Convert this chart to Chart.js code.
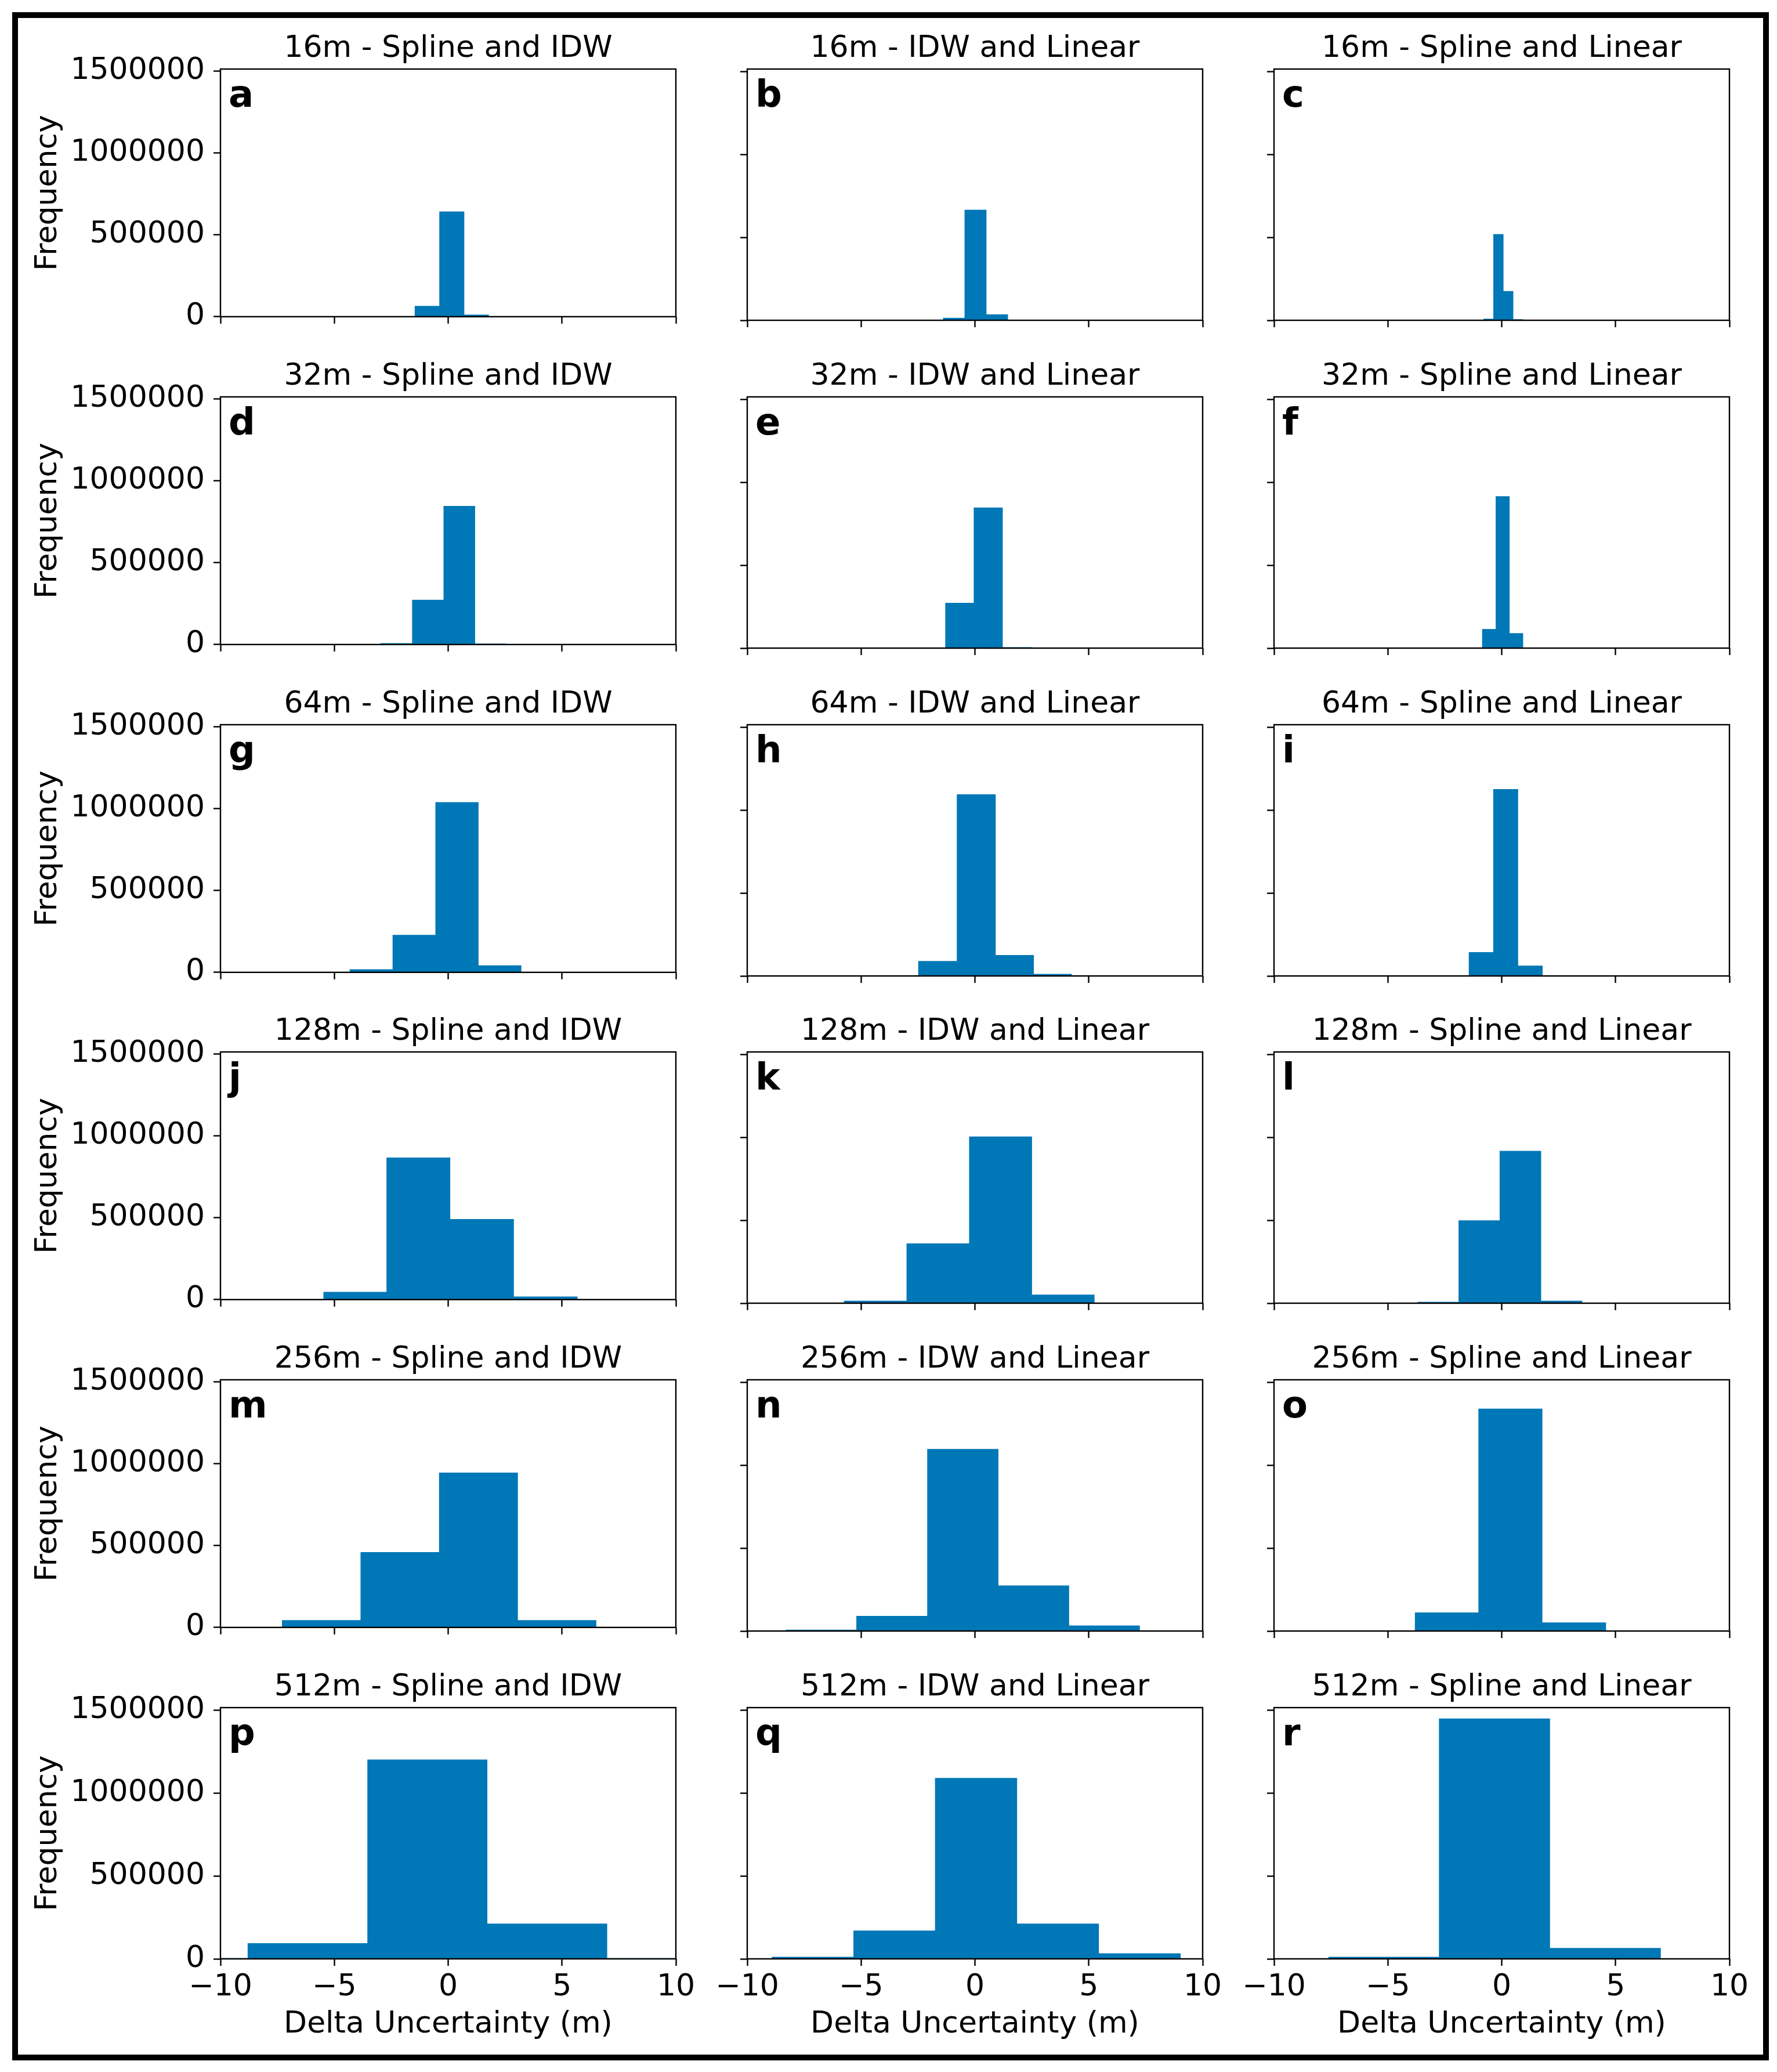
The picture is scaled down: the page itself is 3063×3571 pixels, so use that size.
<!DOCTYPE html>
<html>
<head>
<meta charset="utf-8">
<script src="https://cdn.jsdelivr.net/npm/chart.js@4.4.1/dist/chart.umd.min.js"></script>
<style>
  body { margin: 0; background: #fff; }
  #page { position: relative; width: 3063px; height: 3571px; background: #fff; }
  #frame { position: absolute; left: 21px; top: 21px; width: 3028px; height: 3530px;
           border: 10px solid #000; box-sizing: border-box; }
  canvas { position: absolute; }
</style>
</head>
<body>
<div id="page"><div id="frame"></div></div>
<script>
// resolution rows and method pairs (columns)
var resolutions = ['16m', '32m', '64m', '128m', '256m', '512m'];
var pairs = ['Spline and IDW', 'IDW and Linear', 'Spline and Linear'];
var letters = 'abcdefghijklmnopqr'.split('');
var xTicks = [-10, -5, 0, 5, 10];
var yTicks = [0, 500000, 1000000, 1500000];

// histogram bin centres (m) and counts
var centers_a = [-0.92, 0.16, 1.24];
var counts_a  = [65000, 642000, 11000];
var centers_b = [-0.92, 0.025, 0.97];
var counts_b  = [14000, 665000, 35000];
var centers_c = [-0.575, -0.145, 0.285, 0.715];
var counts_c  = [8000, 518000, 175000, 5000];

var centers_d = [-2.27, -0.88, 0.49, 1.86];
var counts_d  = [7000, 272000, 846000, 4000];
var centers_e = [-0.67, 0.58, 1.845];
var counts_e  = [272000, 846000, 4000];
var centers_f = [-0.555, 0.04, 0.635];
var counts_f  = [114000, 914000, 89000];

var centers_g = [-3.375, -1.49, 0.385, 2.265];
var counts_g  = [18000, 228000, 1039000, 42000];
var centers_h = [-1.635, 0.06, 1.745, 3.41];
var counts_h  = [89000, 1093000, 125000, 11000];
var centers_i = [-0.90, 0.175, 1.25];
var counts_i  = [142000, 1125000, 61000];

var centers_j = [-4.085, -1.315, 1.48, 4.275];
var counts_j  = [46000, 867000, 491000, 18000];
var centers_k = [-4.37, -1.62, 1.125, 3.87];
var counts_k  = [14000, 359000, 1003000, 50000];
var centers_l = [-2.79, -0.985, 0.82, 2.625];
var counts_l  = [7000, 498000, 917000, 14000];

var centers_m = [-5.565, -2.115, 1.33, 4.775];
var counts_m  = [43000, 459000, 945000, 43000];
var centers_n = [-6.755, -3.645, -0.53, 2.575, 5.68];
var counts_n  = [7000, 90000, 1096000, 273000, 32000];
var centers_o = [-2.41, 0.38, 3.175];
var counts_o  = [111000, 1339000, 50000];

var centers_p = [-11.43, -6.165, -0.915, 4.34, 9.61];
var counts_p  = [3000, 93000, 1200000, 211000, 3000];
var centers_q = [-7.12, -3.535, 0.045, 3.64, 7.23];
var counts_q  = [11000, 169000, 1089000, 211000, 32000];
var centers_r = [-5.175, -0.32, 4.545];
var counts_r  = [11000, 1447000, 64000];

var panels = [
    [centers_a, counts_a], [centers_b, counts_b], [centers_c, counts_c],
    [centers_d, counts_d], [centers_e, counts_e], [centers_f, counts_f],
    [centers_g, counts_g], [centers_h, counts_h], [centers_i, counts_i],
    [centers_j, counts_j], [centers_k, counts_k], [centers_l, counts_l],
    [centers_m, counts_m], [centers_n, counts_n], [centers_o, counts_o],
    [centers_p, counts_p], [centers_q, counts_q], [centers_r, counts_r]
];

Chart.defaults.font.family = '"DejaVu Sans"';
Chart.defaults.font.size = 52;
Chart.defaults.color = '#000';

// spines, panel title and bold panel letter
var panelText = {
    id: 'panelText',
    afterDraw: function (chart, args, opts) {
        var ctx = chart.ctx, a = chart.chartArea;
        ctx.save();
        ctx.strokeStyle = '#000';
        ctx.lineWidth = 2.4;
        ctx.strokeRect(a.left, a.top, a.right - a.left, a.bottom - a.top);
        ctx.fillStyle = '#000';
        ctx.textBaseline = 'alphabetic';
        ctx.font = '52px "DejaVu Sans"';
        ctx.textAlign = 'center';
        ctx.fillText(opts.title, (a.left + a.right) / 2, a.top - 21);
        ctx.font = 'bold 64px "DejaVu Sans"';
        ctx.textAlign = 'left';
        ctx.fillText(opts.letter, a.left + 14, a.top + 65);
        ctx.restore();
    }
};

var PLOT_W = 785, PLOT_H = 433, LEFT_W = 340, TOP_H = 90, RIGHT_W = 40;

function minusLabel(v) {
    return v < 0 ? '\u2212' + Math.abs(v) : String(v);
}

panels.forEach(function (p, idx) {
    var row = Math.floor(idx / 3), col = idx % 3;
    var bottomRow = row === 5, firstCol = col === 0;
    var bottomH = bottomRow ? 150 : 40;
    var plotLeft = 380 + 908 * col;
    var plotTop = Math.round(119 + 564.8 * row);

    var canvas = document.createElement('canvas');
    canvas.width = LEFT_W + PLOT_W + RIGHT_W;
    canvas.height = TOP_H + PLOT_H + bottomH;
    canvas.style.left = (plotLeft - LEFT_W) + 'px';
    canvas.style.top = (plotTop - TOP_H) + 'px';
    document.getElementById('page').appendChild(canvas);

    new Chart(canvas.getContext('2d'), {
        type: 'bar',
        data: {
            datasets: [{
                data: p[0].map(function (x, i) { return {x: x, y: p[1][i]}; }),
                backgroundColor: '#0077b6',
                borderWidth: 0,
                barThickness: 'flex',
                barPercentage: 1,
                categoryPercentage: 1
            }]
        },
        options: {
            responsive: false,
            animation: false,
            devicePixelRatio: 1,
            layout: { padding: { left: 0, top: TOP_H, right: RIGHT_W, bottom: 0 } },
            plugins: {
                legend: { display: false },
                tooltip: { enabled: false },
                panelText: { title: resolutions[row] + ' - ' + pairs[col], letter: letters[idx] }
            },
            scales: {
                x: {
                    type: 'linear',
                    min: -10,
                    max: 10,
                    offset: false,
                    afterBuildTicks: function (s) { s.ticks = xTicks.map(function (v) { return {value: v}; }); },
                    afterFit: function (s) { s.height = bottomH; },
                    ticks: { display: bottomRow, padding: 6, maxRotation: 0, callback: minusLabel },
                    grid: { display: true, drawOnChartArea: false, offset: false, drawTicks: true,
                            tickLength: 12, tickWidth: 2.4, tickColor: '#000' },
                    border: { display: false },
                    title: { display: bottomRow, text: 'Delta Uncertainty (m)', padding: { top: 0, bottom: 5 } }
                },
                y: {
                    min: 0,
                    max: 1514000,
                    afterBuildTicks: function (s) { s.ticks = yTicks.map(function (v) { return {value: v}; }); },
                    afterFit: function (s) { s.width = LEFT_W; },
                    ticks: { display: firstCol, padding: 15, callback: function (v) { return String(v); } },
                    grid: { display: true, drawOnChartArea: false, drawTicks: true,
                            tickLength: 12, tickWidth: 2.4, tickColor: '#000' },
                    border: { display: false },
                    title: { display: firstCol, text: 'Frequency', padding: { top: 12, bottom: 0 } }
                }
            }
        },
        plugins: [panelText]
    });
});
</script>
</body>
</html>
